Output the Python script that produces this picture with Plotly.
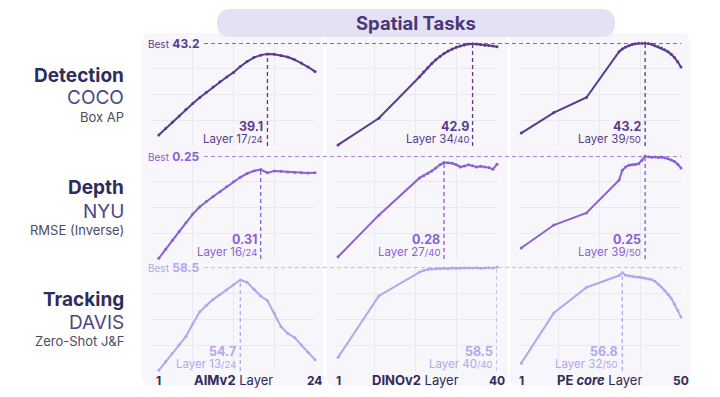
import plotly.graph_objects as go

W, H = 720, 397

# ---------------- data ----------------
tasks = ["Detection", "Depth", "Tracking"]
datasets = ["COCO", "NYU", "DAVIS"]
metrics = ["Box AP", "RMSE (Inverse)", "Zero-Shot J&F"]
model_names = ["<b>AIMv2</b> Layer", "<b>DINOv2</b> Layer", "<b>PE <i>core</i></b> Layer"]
n_layers = [24, 40, 50]

aim_layers = list(range(1, 25))
dino_layers = [1, 11, 21] + list(range(22, 41))
pe_layers = [1, 11, 21] + list(range(31, 51))

det_aim = [9.1, 11.5, 13.8, 16.1, 18.5, 20.8, 22.9, 24.9, 26.9, 28.8, 30.6, 32.3,
           34.5, 36.3, 37.8, 38.7, 39.1, 39.0, 38.6, 38.0, 37.0, 35.8, 34.3, 32.6]
det_dino = [5.4, 15.3, 30.7, 32.4, 34.0, 35.6, 37.0, 38.2, 39.3, 40.2, 41.0, 41.6,
            42.1, 42.5, 42.8, 42.9, 42.8, 42.6, 42.4, 42.3, 42.1, 41.8]
det_pe = [9.8, 17.4, 23.0, 40.0, 41.0, 41.7, 42.2, 42.6, 42.9, 43.1, 43.15, 43.2,
          43.0, 42.7, 42.2, 41.8, 41.3, 40.7, 40.0, 39.0, 37.8, 36.2, 34.3]

depth_aim = [0.717, 0.675, 0.635, 0.595, 0.555, 0.515, 0.483, 0.458, 0.435, 0.413,
             0.390, 0.368, 0.347, 0.330, 0.318, 0.312, 0.327, 0.318, 0.320, 0.323,
             0.325, 0.326, 0.328, 0.326]
depth_dino = [0.71, 0.52, 0.35, 0.34, 0.33, 0.318, 0.305, 0.29, 0.28, 0.281, 0.283,
              0.29, 0.30, 0.296, 0.29, 0.295, 0.30, 0.297, 0.30, 0.303, 0.31, 0.288]
depth_pe = [0.67, 0.565, 0.51, 0.36, 0.315, 0.30, 0.292, 0.29, 0.289, 0.285, 0.27,
            0.25, 0.253, 0.256, 0.254, 0.257, 0.255, 0.258, 0.263, 0.268, 0.275,
            0.288, 0.305]

track_aim = [28.2, 30.7, 33.2, 35.7, 38.1, 41.8, 45.3, 47.2, 49.0, 50.4, 51.8, 53.3,
             54.7, 54.0, 52.0, 50.0, 48.6, 45.0, 41.0, 39.0, 37.8, 35.6, 33.4, 31.3]
track_dino = [32.0, 50.0, 57.0, 57.5, 57.8, 57.9, 58.0, 58.0, 58.1, 58.0, 58.2, 58.1,
              58.2, 58.3, 58.2, 58.2, 58.3, 58.1, 58.2, 58.3, 58.2, 58.5]
track_pe = [30.3, 45.0, 52.5, 56.0, 56.8, 56.1, 55.9, 55.8, 55.6, 55.6, 55.4, 55.2,
            55.0, 54.8, 54.3, 53.5, 52.6, 51.6, 50.5, 49.3, 47.6, 45.8, 43.8]

best_overall = ["43.2", "0.25", "58.5"]
best_labels = [["39.1", "42.9", "43.2"], ["0.31", "0.28", "0.25"], ["54.7", "58.5", "56.8"]]
best_layers = [[17, 34, 39], [16, 27, 39], [13, 40, 32]]

layers_by_col = [aim_layers, dino_layers, pe_layers]
series = [[det_aim, det_dino, det_pe], [depth_aim, depth_dino, depth_pe],
          [track_aim, track_dino, track_pe]]

# ---------------- style ----------------
FONT = "Inter"
row_colors = ["#5a3a8e", "#8c5fd2", "#b2a7ea"]
row_ranges = [[5, 43.2], [0.72, 0.25], [28, 58.5]]
col_px = [(152, 315), (334, 497), (518, 681)]
row_px = [(43, 146), (156, 259), (267, 371)]
panel_px = [(142, 323), (327, 507), (510, 690)]
PANEL_Y = (33, 386)
GRID = "#e9e9f2"


def px(x):
    return x / W


def py(y):
    return 1 - y / H


def rrect(x0, y0, x1, y1, r):
    rx, ry = r / W, r / H
    X0, X1 = px(x0), px(x1)
    Y0, Y1 = py(y0), py(y1)  # Y0 top, Y1 bottom (paper)
    return (f"M{X0+rx},{Y0} L{X1-rx},{Y0} Q{X1},{Y0} {X1},{Y0-ry} "
            f"L{X1},{Y1+ry} Q{X1},{Y1} {X1-rx},{Y1} L{X0+rx},{Y1} "
            f"Q{X0},{Y1} {X0},{Y1+ry} L{X0},{Y0-ry} Q{X0},{Y0} {X0+rx},{Y0} Z")


fig = go.Figure()
shapes = []
annotations = []

for (a, b) in panel_px:
    shapes.append(dict(type="path", path=rrect(a, PANEL_Y[0], b, PANEL_Y[1], 9),
                       xref="paper", yref="paper", fillcolor="#f6f6fb",
                       line=dict(width=0), layer="below"))

shapes.append(dict(type="path", path=rrect(217, 9, 615, 37, 14), xref="paper",
                   yref="paper", fillcolor="#e4e1f4", line=dict(width=0), layer="below"))
annotations.append(dict(text="<b>Spatial Tasks</b>", x=px(416), y=py(23), xref="paper",
                        yref="paper", showarrow=False, xanchor="center", yanchor="middle",
                        font=dict(family=FONT, size=18.5, color="#4a3878")))

layout_axes = {}
for r in range(3):
    lo, hi = row_ranges[r]
    yt = [lo + (hi - lo) * k / 4 for k in range(5)]
    for c in range(3):
        idx = r * 3 + c + 1
        xn = f"xaxis{idx}" if idx > 1 else "xaxis"
        yn = f"yaxis{idx}" if idx > 1 else "yaxis"
        N = n_layers[c]
        layout_axes[xn] = dict(domain=[px(col_px[c][0]), px(col_px[c][1])], range=[0, N],
                               tickvals=[N * k / 4 for k in range(5)], showticklabels=False,
                               showgrid=True, gridcolor=GRID, gridwidth=1, zeroline=False,
                               anchor=f"y{idx}", fixedrange=True, ticks="")
        layout_axes[yn] = dict(domain=[py(row_px[r][1]), py(row_px[r][0])], range=[lo, hi],
                               tickvals=yt, showticklabels=False, showgrid=True,
                               gridcolor=GRID, gridwidth=1, zeroline=False,
                               anchor=f"x{idx}", fixedrange=True, ticks="")
        xs = layers_by_col[c]
        ys = series[r][c]
        col = row_colors[r]
        fig.add_trace(go.Scatter(x=xs, y=ys, mode="lines+markers", xaxis=f"x{idx}",
                                 yaxis=f"y{idx}", line=dict(color=col, width=2),
                                 marker=dict(color=col, size=3), cliponaxis=False,
                                 showlegend=False, hoverinfo="skip"))
        bl = best_layers[r][c]
        bv = ys[xs.index(bl)]
        shapes.append(dict(type="line", xref=f"x{idx}", yref=f"y{idx}", x0=bl, x1=bl,
                           y0=lo, y1=bv, line=dict(color=col, width=1.3, dash="4px,3px")))
        annotations.append(dict(text=f"<b>{best_labels[r][c]}</b>", xref=f"x{idx}",
                                yref=f"y{idx}", x=bl, y=lo, xanchor="right", yanchor="middle",
                                xshift=-2, yshift=20, showarrow=False,
                                font=dict(family=FONT, size=12.5, color=col)))
        annotations.append(dict(text=f"Layer {bl}<span style='font-size:9.5px'>/{N}</span>",
                                xref=f"x{idx}", yref=f"y{idx}", x=bl, y=lo, xanchor="right",
                                yanchor="middle", xshift=-2, yshift=7, showarrow=False,
                                font=dict(family=FONT, size=11.5, color=col)))
    # best line for row
    first = r * 3 + 1
    yref = "y" if first == 1 else f"y{first}"
    shapes.append(dict(type="line", xref="paper", yref=yref, x0=px(204), x1=px(681),
                       y0=hi, y1=hi, line=dict(color=row_colors[r], width=1.3, dash="4px,3px")))
    annotations.append(dict(text=f"<span style='font-size:10px'>Best</span> <b>{best_overall[r]}</b>",
                            xref="paper", yref=yref, x=px(146), y=hi, xanchor="left",
                            yanchor="middle", showarrow=False,
                            font=dict(family=FONT, size=12, color=row_colors[r])))
    # left labels
    ytop = row_px[r][0]
    annotations.append(dict(text=f"<b>{tasks[r]}</b>", xref="paper", yref="paper", x=px(126),
                            y=py(ytop + 32), xanchor="right", yanchor="middle", showarrow=False,
                            font=dict(family=FONT, size=19, color="#2e2c5e")))
    annotations.append(dict(text=datasets[r], xref="paper", yref="paper", x=px(126),
                            y=py(ytop + 55), xanchor="right", yanchor="middle", showarrow=False,
                            font=dict(family=FONT, size=19, color="#4b4787")))
    annotations.append(dict(text=metrics[r], xref="paper", yref="paper", x=px(126),
                            y=py(ytop + 74), xanchor="right", yanchor="middle", showarrow=False,
                            font=dict(family=FONT, size=13, color="#4c4c5e")))

# bottom axis labels
for c in range(3):
    idx = 6 + c + 1
    N = n_layers[c]
    for v in (1, N):
        annotations.append(dict(text=f"<b>{v}</b>", xref=f"x{idx}", yref="paper", x=v,
                                y=py(380), xanchor="center", yanchor="middle", showarrow=False,
                                font=dict(family=FONT, size=12, color="#33295a")))
    annotations.append(dict(text=model_names[c], xref="paper", yref="paper",
                            x=px((col_px[c][0] + col_px[c][1]) / 2), y=py(380),
                            xanchor="center", yanchor="middle", showarrow=False,
                            font=dict(family=FONT, size=13, color="#33295a")))

fig.update_layout(width=W, height=H, margin=dict(l=0, r=0, t=0, b=0),
                  paper_bgcolor="white", plot_bgcolor="rgba(0,0,0,0)",
                  shapes=shapes, annotations=annotations, showlegend=False,
                  font=dict(family=FONT), **layout_axes)

fig.write_html("out.html", config={"displayModeBar": False},
               post_script="document.body.style.margin='0px';")
